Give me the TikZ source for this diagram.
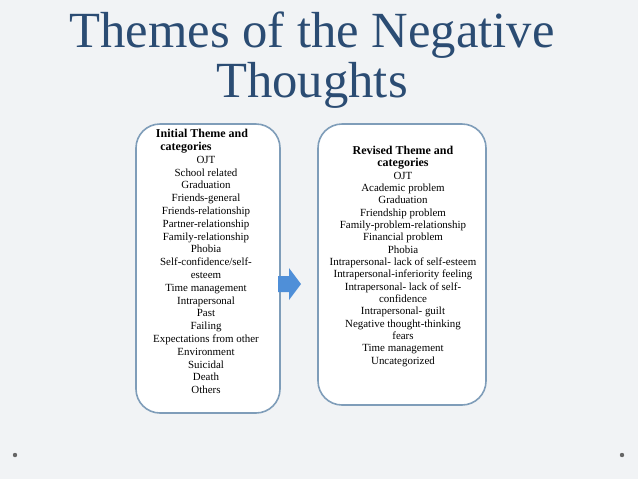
\documentclass[tikz,border=0pt]{standalone}
\usepackage{fontspec}
\setmainfont{Liberation Serif}
\definecolor{bg}{HTML}{F1F3F5}
\definecolor{ttl}{HTML}{2B4C73}
\definecolor{bx}{HTML}{7F9DB9}
\definecolor{arr}{HTML}{4F8FD8}
\newcommand{\hd}[1]{{\fontsize{9}{11}\selectfont\bfseries #1}}
\begin{document}
\begin{tikzpicture}[x=0.75pt,y=-0.75pt,
  panel/.style={draw=bx,line width=1.2pt,rounded corners=18pt,fill=white},
  lst/.style={align=center,font=\fontsize{8.2}{9.6}\selectfont,inner sep=0pt}]
\fill[bg] (0,0) rectangle (638,479);
\useasboundingbox (0,0) rectangle (638,479);
\node[font=\fontsize{38}{38}\selectfont,text=ttl,align=center,inner sep=0pt,draw=ttl,draw opacity=0] (title) at (312,60) {Themes of the Negative\\Thoughts};
\draw[panel] (136,124) rectangle (280,413);
\draw[panel] (318,124) rectangle (486,405);
\node[lst,anchor=north] (left) at (206,129) {\hd{\hspace*{-6pt}Initial Theme and}\\\hd{\hspace*{-30pt}categories}\\
OJT\\School related\\Graduation\\Friends-general\\Friends-relationship\\Partner-relationship\\Family-relationship\\Phobia\\Self-confidence/self-\\esteem\\Time management\\Intrapersonal\\Past\\Failing\\Expectations from other\\Environment\\Suicidal\\Death\\Others};
\node[lst,anchor=north,font=\fontsize{8.2}{9.25}\selectfont] (right) at (403,146) {\hd{Revised Theme and}\\\hd{categories}\\
OJT\\Academic problem\\Graduation\\Friendship problem\\Family-problem-relationship\\Financial problem\\Phobia\\Intrapersonal- lack of self-esteem\\Intrapersonal-inferiority feeling\\Intrapersonal- lack of self-\\confidence\\Intrapersonal- guilt\\Negative thought-thinking\\fears\\Time management\\Uncategorized};
\fill[arr] (278,276) -- (289,276) -- (289,268) -- (301,284) -- (289,300) -- (289,292) -- (278,292) -- cycle;
\fill[gray!80!black] (15,455) circle (2.2);
\fill[gray!80!black] (622,455) circle (2.2);
\end{tikzpicture}
\end{document}
